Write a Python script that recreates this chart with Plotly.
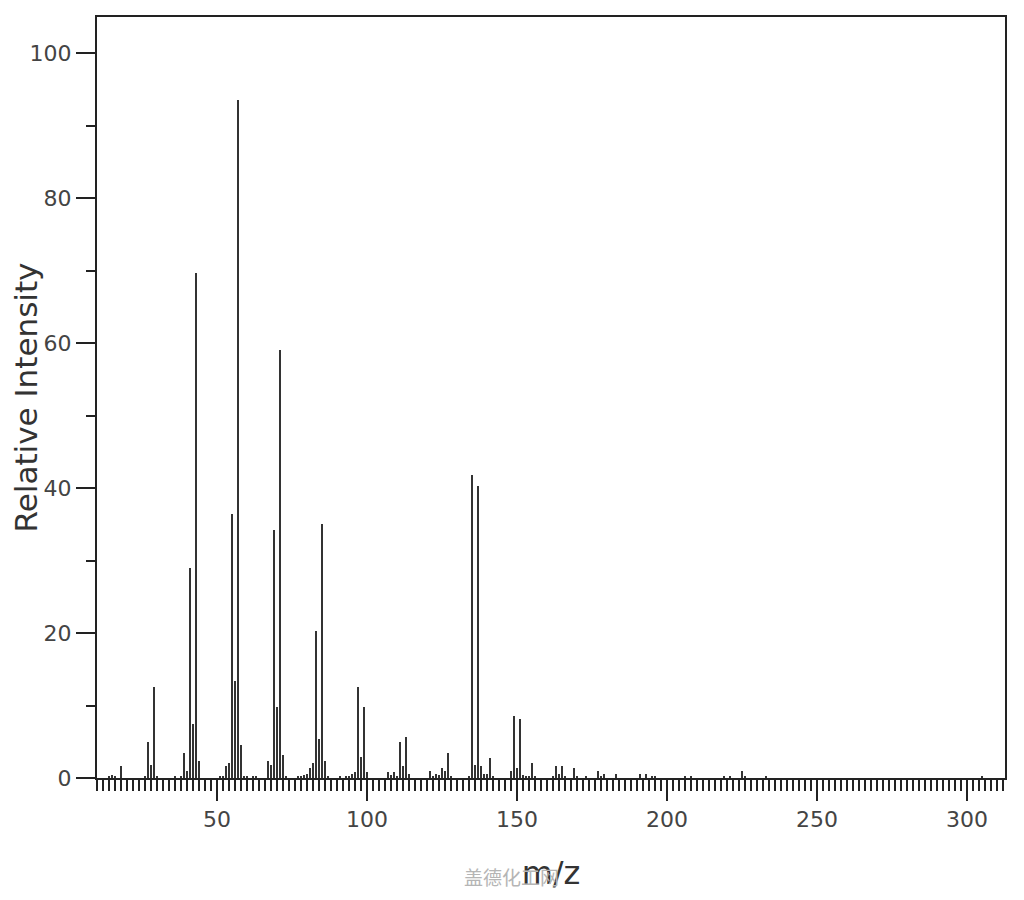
"""Mass spectrum - relative intensity against m/z, drawn as a stick bar plot."""

import plotly.graph_objects as go

# Peak positions (m/z) and relative intensities
mz = [14, 15, 16, 18, 26, 27, 28, 29, 30, 36, 38, 39, 40, 41, 42, 43, 44,
      51, 52, 53, 54, 55, 56, 57, 58, 59, 60, 62, 63, 67, 68, 69, 70, 71, 72, 73,
      77, 78, 79, 80, 81, 82, 83, 84, 85, 86, 87, 91, 93, 94, 95, 96, 97, 98, 99, 100,
      107, 108, 109, 110, 111, 112, 113, 114, 121, 122, 123, 124, 125, 126, 127, 128,
      134, 135, 136, 137, 138, 139, 140, 141, 142, 148, 149, 150, 151, 152, 153, 154,
      155, 156, 162, 163, 164, 165, 166, 169, 170, 173, 177, 178, 179, 183, 191, 193,
      195, 196, 206, 208, 219, 221, 225, 226, 233, 305]
intensity = [0.3, 0.4, 0.3, 1.7, 0.2, 4.9, 1.8, 12.6, 0.3, 0.2, 0.3, 3.5, 0.9, 29.0, 7.4, 69.7, 2.4,
             0.2, 0.3, 1.7, 2.1, 36.4, 13.4, 93.5, 4.6, 0.3, 0.3, 0.2, 0.2, 2.3, 1.8, 34.2, 9.8, 59.0, 3.2, 0.3,
             0.3, 0.2, 0.4, 0.6, 1.4, 2.1, 20.3, 5.4, 35.0, 2.3, 0.3, 0.2, 0.2, 0.3, 0.5, 0.8, 12.6, 2.9, 9.8, 0.8,
             0.8, 0.4, 0.8, 0.3, 4.9, 1.6, 5.7, 0.5, 0.9, 0.3, 0.6, 0.4, 1.4, 0.9, 3.5, 0.2,
             0.3, 41.8, 1.8, 40.3, 1.7, 0.5, 0.5, 2.7, 0.3, 0.9, 8.5, 1.4, 8.1, 0.4, 0.2, 0.3,
             2.1, 0.2, 0.3, 1.7, 0.5, 1.7, 0.2, 1.4, 0.2, 0.3, 0.9, 0.3, 0.5, 0.6, 0.6, 0.6,
             0.2, 0.2, 0.3, 0.3, 0.3, 0.3, 0.9, 0.2, 0.2, 0.3]

x_labels = [50, 100, 150, 200, 250, 300]
x_tens = list(range(10, 320, 10))
y_major = [0, 20, 40, 60, 80, 100]
y_minor = [10, 30, 50, 70, 90]

fig = go.Figure()

fig.add_trace(go.Bar(
    x=mz,
    y=intensity,
    width=0.6,
    marker=dict(color="#333333", line=dict(width=0)),
    hovertemplate="m/z: %{x}<br>Intensity: %{y}<extra></extra>",
))

axis_col = "#222222"
tick_font = dict(family="DejaVu Sans", size=22, color="#444444")

# the page body adds ~8px on the top/left, so margins are trimmed to match
fig.update_layout(
    width=1008,
    height=884,
    margin=dict(l=89, r=11, t=9, b=114),
    plot_bgcolor="white",
    paper_bgcolor="white",
    showlegend=False,
    bargap=0,
    xaxis=dict(
        range=[10, 312.7],
        automargin=False,
        showgrid=False, zeroline=False,
        showline=True, linecolor=axis_col, linewidth=2, mirror=True,
        ticks="outside", tickvals=x_labels, ticklen=21, tickwidth=2, tickcolor=axis_col,
        minor=dict(dtick=2, tick0=0, ticks="outside", ticklen=11, tickwidth=2, tickcolor=axis_col),
        tickfont=tick_font,
        title=dict(text="m/z", font=dict(family="DejaVu Sans", size=32, color="#333333"), standoff=34),
    ),
    xaxis2=dict(
        overlaying="x", anchor="y", side="bottom",
        range=[10, 312.7],
        showgrid=False, zeroline=False, showline=False,
        ticks="outside", tickvals=x_tens, ticklen=15, tickwidth=2, tickcolor=axis_col,
        showticklabels=False,
    ),
    yaxis=dict(
        range=[0, 105],
        automargin=False,
        showgrid=False, zeroline=False,
        showline=True, linecolor=axis_col, linewidth=2, mirror=True,
        ticks="outside", tickvals=y_major, ticklen=19, tickwidth=2, tickcolor=axis_col,
        minor=dict(tickvals=y_minor, ticks="outside", ticklen=9, tickwidth=2, tickcolor=axis_col),
        tickfont=tick_font,
        title=dict(text="Relative Intensity", font=dict(family="DejaVu Sans", size=31, color="#333333"),
                   standoff=17),
    ),
)

# Faint site watermark under the axis title
fig.add_annotation(
    text="盖德化工网", xref="paper", yref="paper", x=0.456, y=-0.15,
    showarrow=False, font=dict(family="Noto Sans CJK SC", size=19, color="#b5b5b5"),
)

fig.write_html("out.html")
